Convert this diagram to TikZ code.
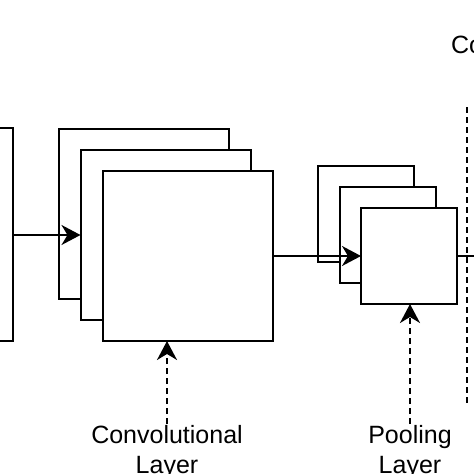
\documentclass[tikz,border=0pt]{standalone}
\usepackage{fontspec}
\setmainfont{Liberation Sans}
\usetikzlibrary{arrows.meta}

\begin{document}
\begin{tikzpicture}[x=1pt, y=-1pt, line width=2pt,
    layerbox/.style={draw, fill=white, minimum width=170pt, minimum height=170pt, inner sep=0pt, outer sep=0pt},
    poolbox/.style={layerbox, minimum width=96pt, minimum height=96pt},
    lbl/.style={font=\fontsize{25}{30}\selectfont, align=center, inner sep=0pt},
    arr/.style={-{Stealth[length=19pt, width=20pt, inset=6pt]}},
    darr/.style={arr, dash pattern=on 6pt off 4pt}]
    \clip (0,0) rectangle (474,474);

    \node[layerbox, minimum width=33pt, minimum height=213pt] (input) at (-3.5,234.5) {};

    \node[layerbox] (conv1) at (144,213.5) {};
    \node[layerbox] (conv2) at (165.5,235) {};
    \node[layerbox] (conv3) at (187.5,256) {};

    \node[poolbox] (pool1) at (366,214) {};
    \node[poolbox] (pool2) at (388,235) {};
    \node[poolbox] (pool3) at (409,256) {};

    \coordinate (out) at (480,256);
    \coordinate (sepA) at (467,107);
    \coordinate (sepB) at (467,405);

    \path[arr, draw] (input.east |- conv2.west) -- (conv2.west);
    \path[arr, draw] (conv3.east) -- (pool3.west);
    \path[draw] (pool3.east) -- (out);
    \path[draw, dash pattern=on 6pt off 4pt] (sepA) -- (sepB);

    \node[lbl, anchor=north] (convlbl) at (167,424) {Convolutional\\Layer};
    \node[lbl, anchor=north] (poollbl) at (410,424) {Pooling\\Layer};
    \node[lbl, anchor=west] (toplbl) at (450,45) {Co};

    \path[darr, draw] (convlbl.north) -- (convlbl.north |- conv3.south);
    \path[darr, draw] (poollbl.north) -- (poollbl.north |- pool3.south);
\end{tikzpicture}
\end{document}
